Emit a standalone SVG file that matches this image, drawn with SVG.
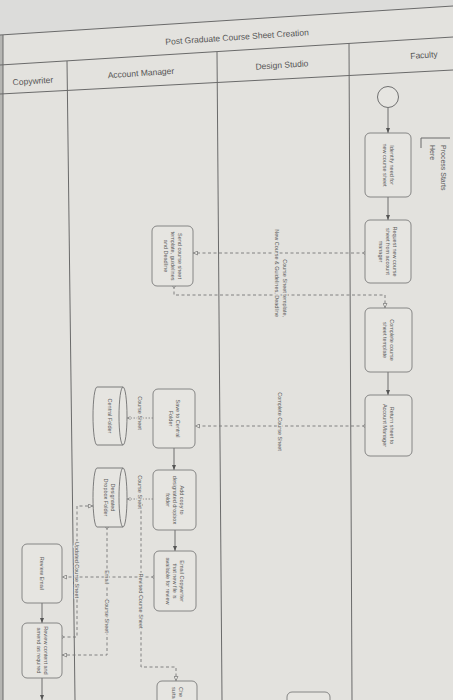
<svg xmlns="http://www.w3.org/2000/svg" width="453" height="700" viewBox="0 0 453 700">
<defs>
<style>
.bg{fill:#e3e2de}
.ln{stroke:#6a6a6a;stroke-width:1;fill:none}
.hd{font-family:"Liberation Sans",Arial,sans-serif;font-size:8.5px;fill:#555}
.box{fill:#e6e5e1;stroke:#7a7a7a;stroke-width:0.9}
.bt{font-family:"Liberation Sans",Arial,sans-serif;font-size:5.5px;fill:#5a5a5a;text-anchor:middle}
.lb{font-family:"Liberation Sans",Arial,sans-serif;font-size:5.5px;fill:#5a5a5a;paint-order:stroke;stroke:#e3e2de;stroke-width:2.2px;stroke-linejoin:round}
.seq{stroke:#606060;stroke-width:0.9;fill:none;marker-end:url(#sa)}
.msg{stroke:#777;stroke-width:0.9;fill:none;stroke-dasharray:3,2.5;marker-start:url(#ms);marker-end:url(#ma)}
.dat{stroke:#777;stroke-width:0.8;fill:none;stroke-dasharray:1.5,1.5;marker-end:url(#da)}
</style>
<marker id="sa" viewBox="0 0 10 10" refX="10" refY="5" markerWidth="5" markerHeight="5" orient="auto" markerUnits="userSpaceOnUse"><path d="M0,1 L10,5 L0,9 Z" fill="#555"/></marker>
<marker id="ma" viewBox="0 0 10 10" refX="10" refY="5" markerWidth="5" markerHeight="5" orient="auto" markerUnits="userSpaceOnUse"><path d="M1,1 L9,5 L1,9 Z" fill="#e6e5e1" stroke="#666" stroke-width="1.2"/></marker>
<marker id="ms" viewBox="0 0 10 10" refX="5" refY="5" markerWidth="4" markerHeight="4" orient="auto" markerUnits="userSpaceOnUse"><circle cx="5" cy="5" r="3.5" fill="#e6e5e1" stroke="#666" stroke-width="1.4"/></marker>
<marker id="da" viewBox="0 0 10 10" refX="10" refY="5" markerWidth="4" markerHeight="4" orient="auto" markerUnits="userSpaceOnUse"><path d="M1,1 L9,5 L1,9" fill="none" stroke="#666" stroke-width="1.3"/></marker>
</defs>

<rect class="bg" x="0" y="0" width="453" height="700"/>
<polygon points="0,0 453,0 453,6 0,35" fill="#dcdcda"/>
<rect x="0" y="35" width="3" height="665" fill="#b5b5b2"/>

<g id="pool">
<line class="ln" x1="0" y1="35" x2="453" y2="6"/>
<line class="ln" x1="0" y1="65" x2="453" y2="37"/>
<line class="ln" x1="0" y1="94" x2="453" y2="70"/>
<line class="ln" x1="3" y1="35" x2="3" y2="700" stroke-width="1.3"/>
<line class="ln" x1="67" y1="61" x2="75" y2="700"/>
<line class="ln" x1="217" y1="52" x2="222" y2="700"/>
<line class="ln" x1="349" y1="43" x2="352" y2="700"/>
<text class="hd" x="237" y="40" text-anchor="middle" transform="rotate(-3.8 237 37)">Post Graduate Course Sheet Creation</text>
<text class="hd" x="33" y="84" text-anchor="middle" transform="rotate(-3.8 33 82)">Copywriter</text>
<text class="hd" x="141" y="76" text-anchor="middle" transform="rotate(-3.8 141 74)">Account Manager</text>
<text class="hd" x="282" y="68" text-anchor="middle" transform="rotate(-3.8 282 66)">Design Studio</text>
<text class="hd" x="424" y="58" text-anchor="middle" transform="rotate(-3.8 424 56)">Faculty</text>
</g>

<g id="connectors">
<line class="seq" x1="388" y1="108" x2="388" y2="133"/>
<line class="seq" x1="388" y1="197" x2="388" y2="220"/>
<line class="seq" x1="388" y1="372" x2="388" y2="395"/>
<line class="seq" x1="174" y1="448" x2="174" y2="470"/>
<line class="seq" x1="175" y1="530" x2="175" y2="551"/>
<line class="seq" x1="42" y1="603" x2="42" y2="623"/>
<line class="seq" x1="42" y1="678" x2="42" y2="700"/>
<path class="msg" d="M365,253 H193"/>
<path class="msg" d="M174,286 V295 H385 V308"/>
<path class="msg" d="M365,426 H195"/>
<path class="dat" d="M153,418 H127"/>
<path class="dat" d="M153,499 H127"/>
<path class="msg" d="M154,577 H62"/>
<path class="msg" d="M107,527 V655 H62"/>
<path class="msg" d="M62,637 H77 V506 H93"/>
<path class="msg" d="M141,505 V667 H176 V681"/>
<text class="lb" text-anchor="end" transform="translate(281,317) rotate(90)"><tspan x="0" y="-2.1">Course Sheet template,</tspan><tspan x="0" y="5.9">New Course &amp; Guidelines, Deadline</tspan></text>
<text class="lb" text-anchor="middle" transform="translate(280,421.5) rotate(90)" y="1.9">Complete Course Sheet</text>
<text class="lb" text-anchor="middle" transform="translate(140,413) rotate(90)" y="1.9">Course Sheet</text>
<text class="lb" text-anchor="middle" transform="translate(140,492) rotate(90)" y="1.9">Course Sheet</text>
<text class="lb" text-anchor="middle" transform="translate(107,577) rotate(90)" y="1.9">Email</text>
<text class="lb" text-anchor="middle" transform="translate(107,616) rotate(90)" y="1.9">Course Sheet</text>
<text class="lb" text-anchor="middle" transform="translate(77,570) rotate(90)" y="1.9">Updated Course Sheet</text>
<text class="lb" text-anchor="middle" transform="translate(141,601) rotate(90)" y="1.9">Revised Course Sheet</text>
</g>

<g id="start">
<circle cx="388" cy="97" r="10.5" fill="#e6e5e1" stroke="#707070" stroke-width="1"/>
</g>

<g id="annotation">
<path class="ln" d="M421,148 V138 H450"/>
<text class="bt" style="font-size:7px;text-anchor:start" transform="translate(437,145) rotate(90)"><tspan x="0" y="-3.5">Process Starts</tspan><tspan x="0" y="7.5">Here</tspan></text>
</g>

<g id="identify">
<rect class="box" x="365" y="133" width="46" height="64" rx="5"/>
<text class="bt" transform="translate(388,165) rotate(90)"><tspan x="0" y="-1.6">Identify need for</tspan><tspan x="0" y="5.4">new course sheet</tspan></text>
</g>
<g id="request">
<rect class="box" x="365" y="220" width="46" height="63" rx="5"/>
<text class="bt" transform="translate(388,251.5) rotate(90)"><tspan x="0" y="-5.1">Request new course</tspan><tspan x="0" y="1.9">sheet from account</tspan><tspan x="0" y="8.9">manager</tspan></text>
</g>
<g id="complete">
<rect class="box" x="365" y="308" width="47" height="64" rx="5"/>
<text class="bt" transform="translate(388.5,340) rotate(90)"><tspan x="0" y="-1.6">Complete course</tspan><tspan x="0" y="5.4">sheet template</tspan></text>
</g>
<g id="return">
<rect class="box" x="365" y="395" width="47" height="61" rx="5"/>
<text class="bt" transform="translate(388.5,425.5) rotate(90)"><tspan x="0" y="-1.6">Return sheet to</tspan><tspan x="0" y="5.4">Account Manager</tspan></text>
</g>

<g id="send">
<rect class="box" x="152" y="226" width="41" height="60" rx="5"/>
<text class="bt" transform="translate(172.5,256) rotate(90)"><tspan x="0" y="-5.1">Send course sheet</tspan><tspan x="0" y="1.9">template, guidelines</tspan><tspan x="0" y="8.9">and Deadline</tspan></text>
</g>
<g id="save">
<rect class="box" x="153" y="389" width="42" height="59" rx="5"/>
<text class="bt" transform="translate(174,418.5) rotate(90)"><tspan x="0" y="-1.6">Save to Central</tspan><tspan x="0" y="5.4">Folder</tspan></text>
</g>
<g id="addcopy">
<rect class="box" x="153" y="470" width="43" height="60" rx="5"/>
<text class="bt" transform="translate(174.5,500) rotate(90)"><tspan x="0" y="-5.1">Add copy to</tspan><tspan x="0" y="1.9">designated dropbox</tspan><tspan x="0" y="8.9">folder</tspan></text>
</g>
<g id="email">
<rect class="box" x="154" y="551" width="42" height="60" rx="5"/>
<text class="bt" transform="translate(175,581) rotate(90)"><tspan x="0" y="-5.1">Email Copywriter</tspan><tspan x="0" y="1.9">that new file is</tspan><tspan x="0" y="8.9">available for review</tspan></text>
</g>
<g id="check">
<rect class="box" x="157" y="681" width="40" height="40" rx="5"/>
<text class="bt" style="text-anchor:start" transform="translate(177,687) rotate(90)"><tspan x="0" y="-1.6">Che</tspan><tspan x="0" y="5.4">suita</tspan></text>
</g>

<g id="centralfolder">
<path d="M97,387 H123 A4,29 0 0 1 123,445 H97 A4,29 0 0 1 97,387 Z" fill="#e6e5e1" stroke="#707070" stroke-width="0.9"/>
<path d="M123,387 A4,29 0 0 0 123,445" fill="none" stroke="#707070" stroke-width="0.9"/>
<text class="bt" transform="translate(110,416) rotate(90)" y="1.9">Central Folder</text>
</g>
<g id="dropbox">
<path d="M97,468 H123 A4,29.5 0 0 1 123,527 H97 A4,29.5 0 0 1 97,468 Z" fill="#e6e5e1" stroke="#707070" stroke-width="0.9"/>
<path d="M123,468 A4,29.5 0 0 0 123,527" fill="none" stroke="#707070" stroke-width="0.9"/>
<text class="bt" transform="translate(109,497.5) rotate(90)"><tspan x="0" y="-1.6">Designated</tspan><tspan x="0" y="5.4">Dropbox Folder</tspan></text>
</g>

<g id="reviewemail">
<rect class="box" x="22" y="544" width="40" height="59" rx="5"/>
<text class="bt" transform="translate(42,573.5) rotate(90)" y="1.9">Review Email</text>
</g>
<g id="reviewcontent">
<rect class="box" x="22" y="623" width="40" height="55" rx="5"/>
<text class="bt" transform="translate(42,650.5) rotate(90)"><tspan x="0" y="-1.6">Review content and</tspan><tspan x="0" y="5.4">amend as required</tspan></text>
</g>

<g id="studiotask">
<rect class="box" x="287" y="692" width="43" height="20" rx="5"/>
</g>
</svg>
